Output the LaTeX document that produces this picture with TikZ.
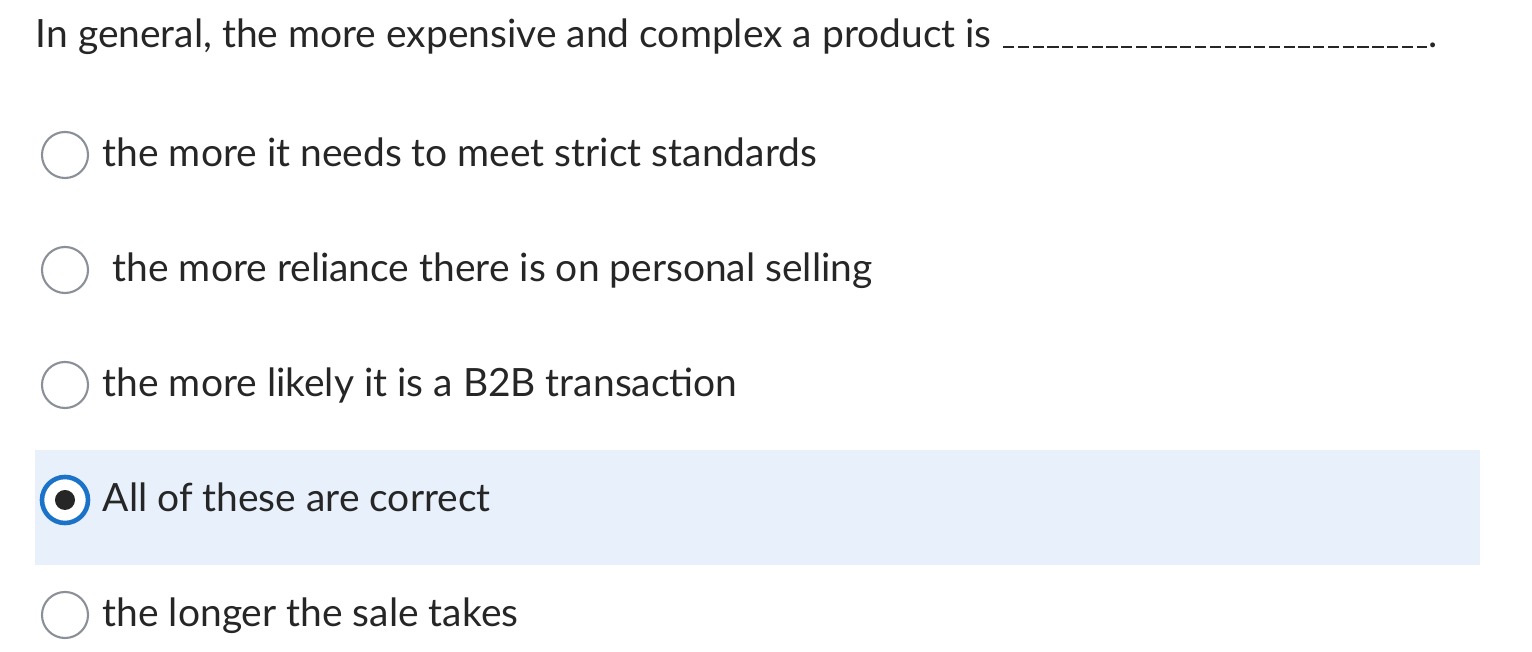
\documentclass[tikz,border=0pt]{standalone}
\usepackage{fontspec}
\setmainfont{Lato}
\usepackage{xcolor}
\definecolor{selbg}{HTML}{E8F0FB}
\definecolor{selblue}{HTML}{1A73C8}
\definecolor{ringgray}{HTML}{8A8F98}
\definecolor{txt}{HTML}{262626}

\begin{document}
\begin{tikzpicture}[x=0.01cm, y=-0.01cm,
    every node/.style={font=\fontsize{11.08pt}{13pt}\selectfont, text=txt},
    answer/.style={anchor=base west, inner sep=0pt},
    radio/.style={draw=ringgray, line width=0.6pt, fill=white, circle, minimum size=0.46cm, inner sep=0pt}]
  \useasboundingbox (0,0) rectangle (1532,652);
  % selected row background
  \fill[selbg] (35,450) rectangle (1480,565);
  % question
  \node[answer] (question) at (35,48) {In general, the more expensive and complex a product is};
  \draw[dash pattern=on 3.2pt off 1pt, line width=0.5pt, txt] (1003,47) coordinate (blankA) -- (1427,47) coordinate (blankB);
  \node[answer] (period) at (1428,48) {.};
  % options
  \foreach \y/\dx/\label [count=\i] in {155/102/{the more it needs to meet strict standards},
      270/112/{the more reliance there is on personal selling},
      385/102/{the more likely it is a B2B transaction},
      500/102/{All of these are correct},
      615/102/{the longer the sale takes}} {
    \node[radio] (radio\i) at (65,\y) {};
    \node[answer] (option\i) at (\dx,\y+12) {\label};
  }
  % selected answer
  \node[radio, draw=selblue, line width=1.3pt] (sel) at (65,500) {};
  \fill[txt] (sel.center) circle (0.1cm);
\end{tikzpicture}
\end{document}
